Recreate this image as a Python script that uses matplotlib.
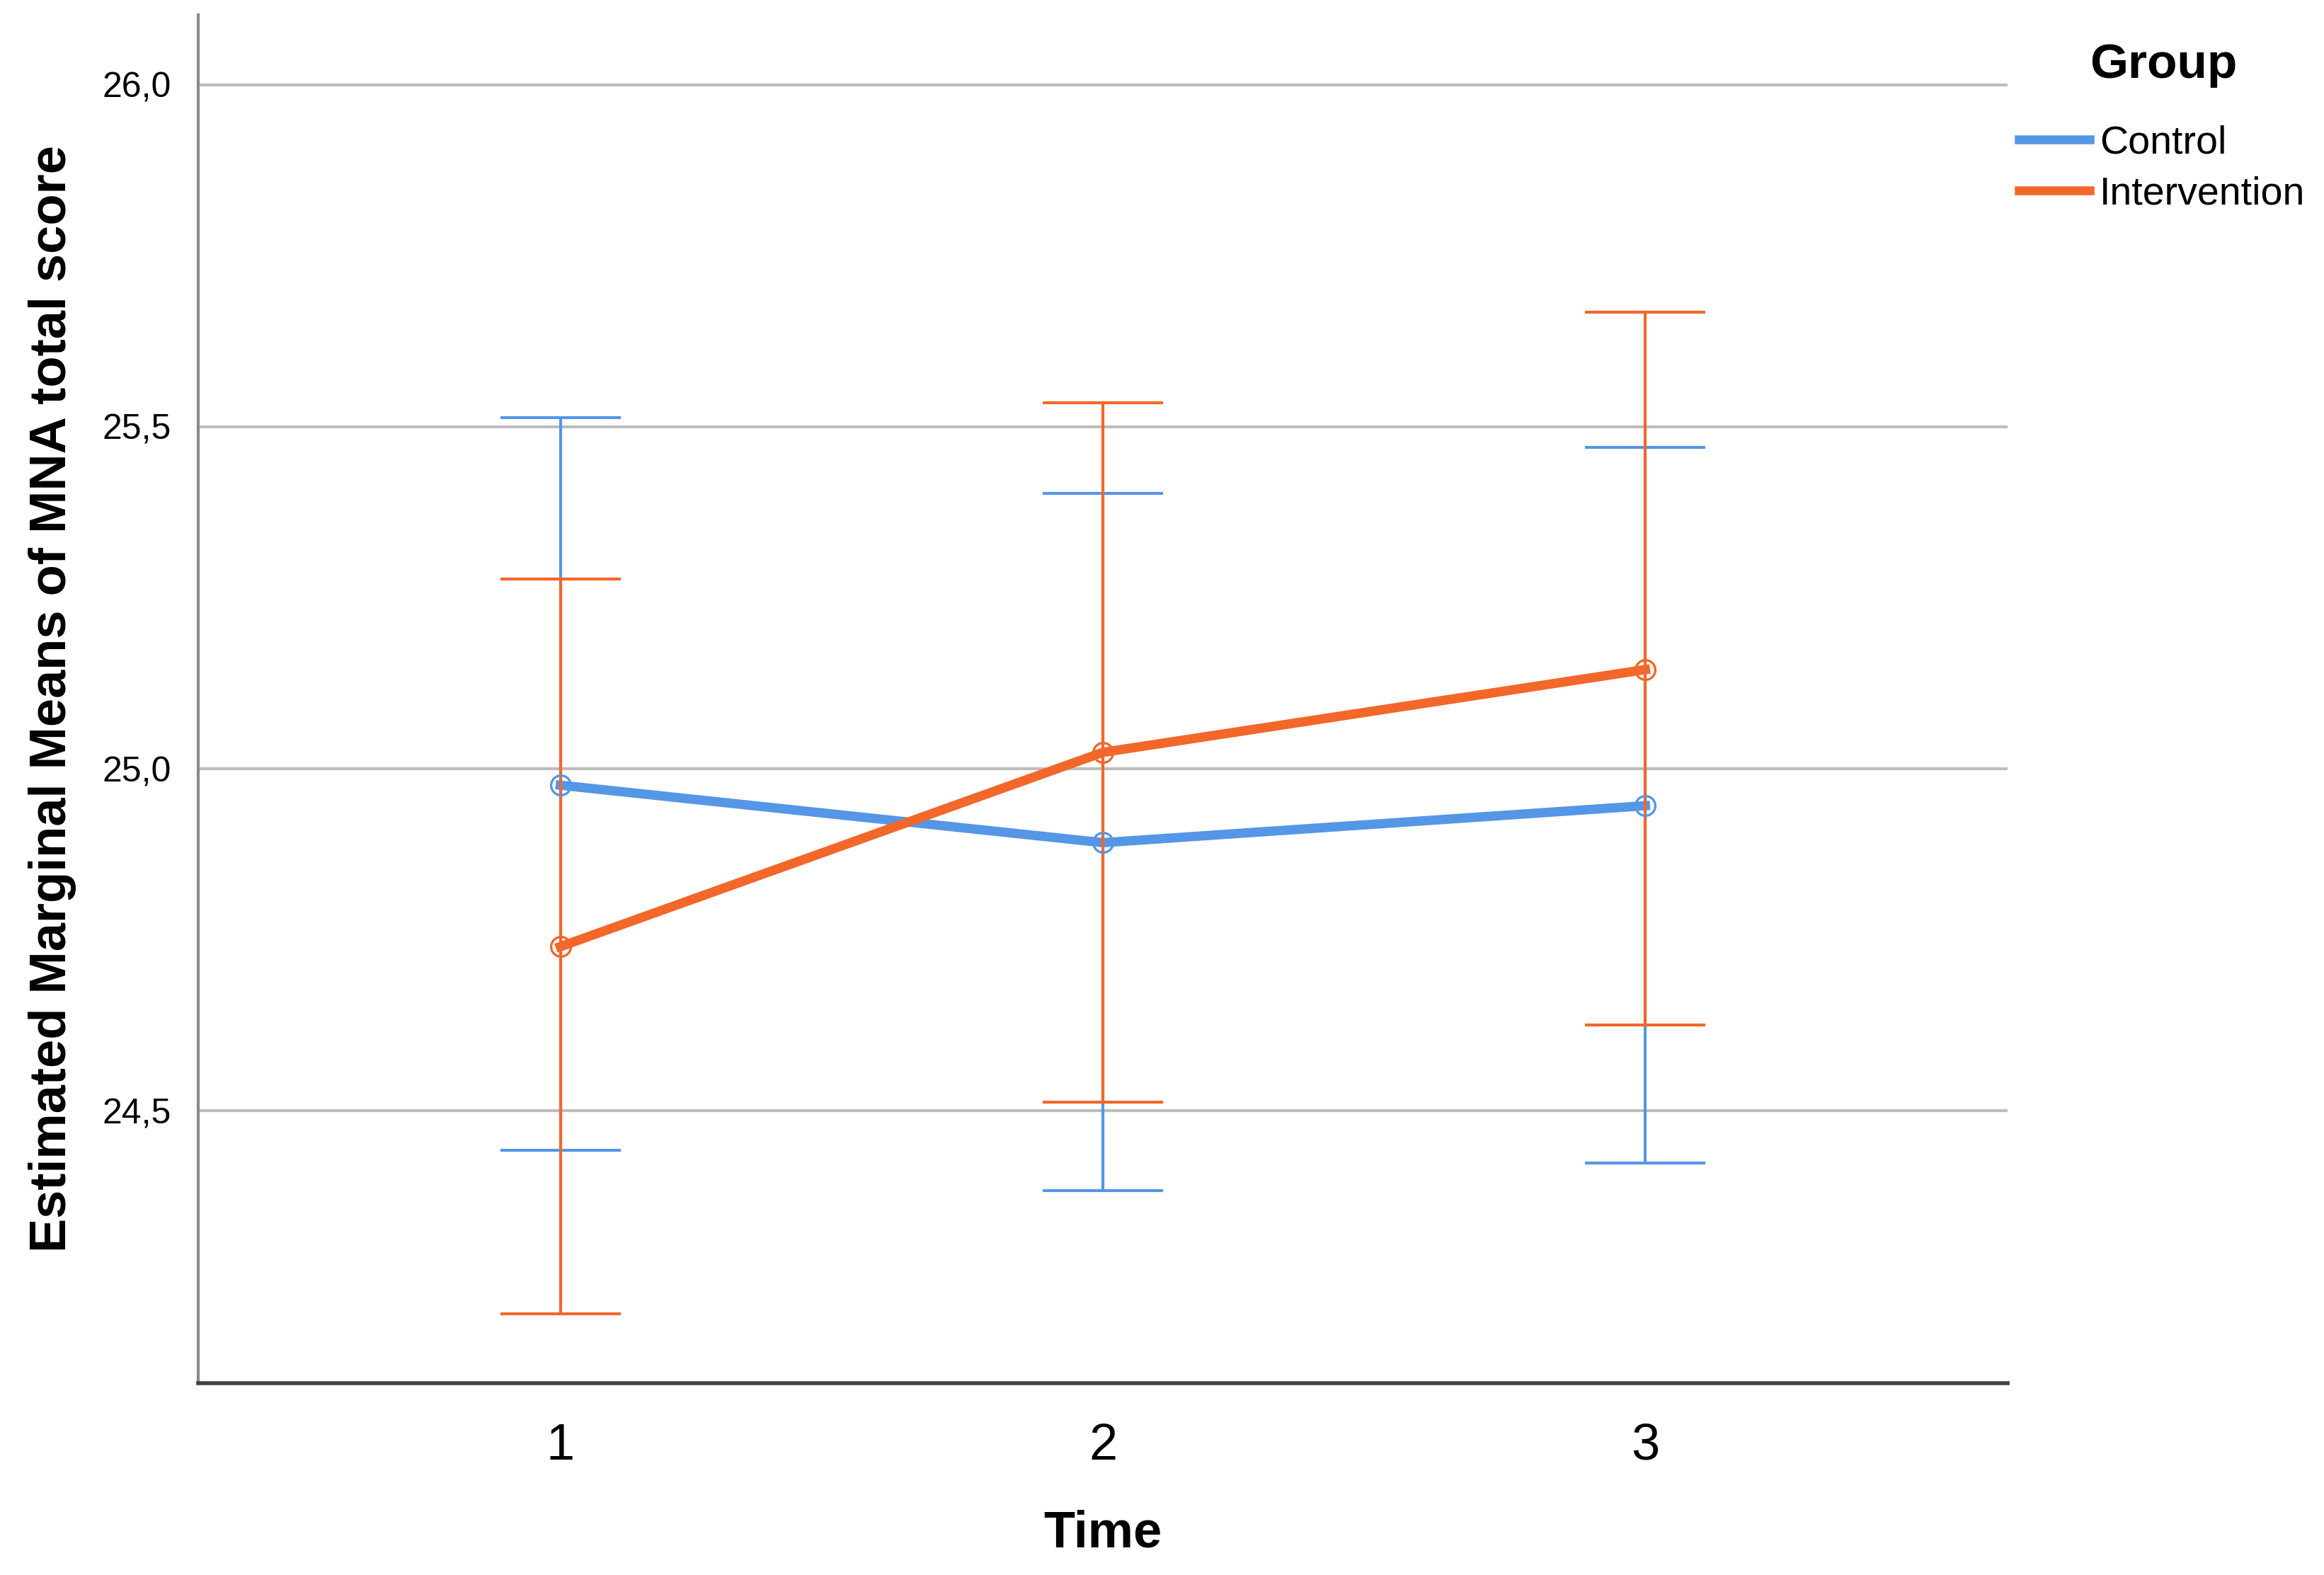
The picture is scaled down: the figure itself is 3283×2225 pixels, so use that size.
import matplotlib
matplotlib.use("Agg")
import matplotlib.pyplot as plt

# data (estimated marginal means with 95% CI)
time_points = [1, 2, 3]
control_mean = [24.976, 24.892, 24.946]
control_low = [24.442, 24.383, 24.424]
control_high = [25.513, 25.403, 25.470]
interv_mean = [24.740, 25.024, 25.145]
interv_low = [24.203, 24.513, 24.626]
interv_high = [25.277, 25.535, 25.667]
y_ticks = [24.5, 25.0, 25.5, 26.0]
y_tick_labels = ["24,5", "25,0", "25,5", "26,0"]

blue = "#5596E6"
orange = "#F3672A"

plt.rcParams["font.family"] = ["Liberation Sans", "DejaVu Sans"]

fig = plt.figure(figsize=(32.83, 22.25), dpi=100)
ax = fig.add_axes([0.0854, 0.1218, 0.7783, 0.8688])

# grid lines
for yv in y_ticks:
    ax.axhline(yv, color="#BDBDBD", lw=3, zorder=0)

groups = [
    ("Control", control_mean, control_low, control_high, blue),
    ("Intervention", interv_mean, interv_low, interv_high, orange),
]
for i, (name, m, lo, hi, col) in enumerate(groups):
    yerr = [[a - b for a, b in zip(m, lo)], [b - a for a, b in zip(m, hi)]]
    ax.plot(time_points, m, color=col, lw=9.5, label=name, zorder=2 + i)
    ax.errorbar(time_points, m, yerr=yerr, fmt="none", ecolor=col,
                elinewidth=3, capsize=61, capthick=3, zorder=4 + i)
    ax.plot(time_points, m, "o", ms=20, mfc="none", mec=col, mew=2.4,
            zorder=6 + i)

ax.set_xlim(0.333, 3.667)
ax.set_ylim(24.102, 26.102)
ax.set_xticks(time_points)
ax.set_xticklabels([str(t) for t in time_points], fontsize=52)
ax.set_yticks(y_ticks)
ax.set_yticklabels(y_tick_labels, fontsize=36)
ax.tick_params(axis="both", length=0)
ax.tick_params(axis="x", pad=40)
ax.tick_params(axis="y", pad=28)

ax.spines["top"].set_visible(False)
ax.spines["right"].set_visible(False)
ax.spines["left"].set_color("#8A8A8A")
ax.spines["left"].set_linewidth(3)
ax.spines["bottom"].set_color("#404040")
ax.spines["bottom"].set_linewidth(4)

ax.set_xlabel("Time", fontsize=52, fontweight="bold", labelpad=40)
ax.set_ylabel("Estimated Marginal Means of MNA total score", fontsize=52,
              fontweight="bold", labelpad=26)

# legend title placed separately, entries below it
fig.text(0.931, 0.9587, "Group", fontsize=50, fontweight="bold",
         ha="center", va="center")
leg = fig.legend(loc="center left", bbox_to_anchor=(0.8687, 0.8928),
                 frameon=False, fontsize=40,
                 handlelength=1.8, handletextpad=0.25, labelspacing=0.35,
                 borderpad=0, borderaxespad=0)
for line in leg.get_lines():
    line.set_linewidth(9)

fig.savefig("out.png", dpi=100)
